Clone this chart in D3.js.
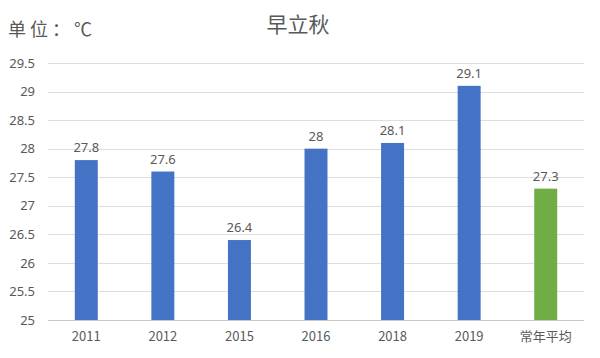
<!DOCTYPE html>
<html>
<head>
<meta charset="utf-8">
<script src="https://cdn.jsdelivr.net/npm/d3@7"></script>
<style>
  body { margin: 0; background: #fff; }
  text { font-family: "Noto Sans CJK SC", "Noto Sans", sans-serif; fill: #595959; }
</style>
</head>
<body>
<div id="chart"></div>
<script>
// data
var categories = ["2011", "2012", "2015", "2016", "2018", "2019", "常年平均"];
var values = [27.8, 27.6, 26.4, 28, 28.1, 29.1, 27.3];
var yTicks = [25, 25.5, 26, 26.5, 27, 27.5, 28, 28.5, 29, 29.5];

var svgWidth = 600;
var svgHeight = 358;

var svg = d3.select("#chart")
  .append("svg")
  .attr("width", svgWidth)
  .attr("height", svgHeight);

var xScale = d3.scaleBand()
  .domain(categories)
  .range([48, 584])
  .paddingInner(0.7)
  .paddingOuter(0.35);

var yScale = d3.scaleLinear()
  .domain([25, 29.5])
  .range([320, 63]);

// gridlines
svg.append("g")
  .selectAll("line")
  .data(yTicks)
  .enter()
  .append("line")
  .attr("x1", 48)
  .attr("x2", 584)
  .attr("y1", d => Math.round(yScale(d)) + 0.5)
  .attr("y2", d => Math.round(yScale(d)) + 0.5)
  .attr("stroke", d => d === 25 ? "#c8c8c8" : "#dedede")
  .attr("stroke-width", 1);

// y axis labels
var leftAxis = d3.axisLeft(yScale)
  .tickValues(yTicks)
  .tickFormat(d => String(d))
  .tickSize(0)
  .tickPadding(0);
var yAxis = svg.append("g")
  .attr("transform", "translate(35,0)")
  .call(leftAxis);
yAxis.select(".domain").remove();
yAxis.selectAll("text")
  .style("font-size", "13px")
  .style("fill", "#595959")
  .style("font-family", "'Noto Sans', sans-serif");

// x axis labels
var bottomAxis = d3.axisBottom(xScale).tickSize(0).tickPadding(0);
var xAxis = svg.append("g")
  .attr("transform", "translate(0,332)")
  .call(bottomAxis);
xAxis.select(".domain").remove();
xAxis.selectAll("text")
  .style("font-size", "13px")
  .style("fill", "#595959")
  .style("font-family", "'Noto Sans CJK SC', 'Noto Sans', sans-serif");

// bars
svg.selectAll("rect.bar")
  .data(values)
  .enter()
  .append("rect")
  .attr("class", "bar")
  .attr("x", (d, i) => xScale(categories[i]))
  .attr("y", d => yScale(d))
  .attr("width", xScale.bandwidth())
  .attr("height", d => yScale(25) - yScale(d))
  .attr("fill", (d, i) => i === categories.length - 1 ? "#70AD47" : "#4472C4");

// value labels
svg.selectAll("text.val")
  .data(values)
  .enter()
  .append("text")
  .attr("class", "val")
  .attr("x", (d, i) => xScale(categories[i]) + xScale.bandwidth() / 2)
  .attr("y", d => yScale(d) - 8)
  .attr("text-anchor", "middle")
  .style("font-size", "13px")
  .style("font-family", "'Noto Sans', sans-serif")
  .text(d => d);

// title
svg.append("text")
  .attr("x", 298)
  .attr("y", 32)
  .attr("text-anchor", "middle")
  .style("font-size", "21px")
  .text("早立秋");

// unit
svg.append("text")
  .attr("x", 8)
  .attr("y", 36)
  .style("font-size", "18px")
  .style("letter-spacing", "4px")
  .text("单位：℃");
</script>
</body>
</html>
